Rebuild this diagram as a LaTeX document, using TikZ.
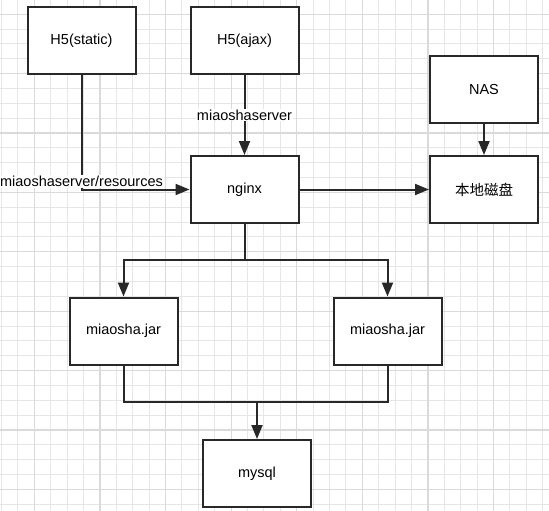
\documentclass[tikz,border=0pt]{standalone}
\usepackage{xcolor}
\usepackage{tikz}
\usepackage{fontspec}
\setmainfont{Liberation Sans}
\newfontfamily\cjk{Noto Sans CJK SC}
\usetikzlibrary{arrows.meta}
\definecolor{grid-color}{RGB}{230,230,230}
\definecolor{grid-major-color}{RGB}{218,218,218}
\definecolor{line-color}{RGB}{40,40,40}

\begin{document}
\begin{tikzpicture}[
    x=1pt, y=-1pt,
    font=\fontsize{14.5}{16}\selectfont,
    box/.style={rectangle,draw=line-color,line width=2pt,fill=white,minimum width=108pt,minimum height=67pt},
    wire/.style={draw=line-color,line width=2pt},
    arr/.style={wire,-{Triangle[length=14pt,width=11pt]}},
    lbl/.style={fill=white,inner sep=1pt}
]
\useasboundingbox (0,0) rectangle (549,511);
\fill[white] (0,0) rectangle (549,511);
% grid
\foreach \i in {0,...,33}
    \draw[grid-color,line width=1pt] ({1.5+16.4*\i},0) -- ++(0,511);
\foreach \j in {0,...,33}
    \draw[grid-color,line width=1pt] (0,{14.2+14.85*\j}) -- ++(549,0);
\foreach \i in {2,6,...,30}
    \draw[grid-major-color,line width=1.2pt] ({1.5+16.4*\i},0) -- ++(0,511);
\foreach \j in {0,4,...,32}
    \draw[grid-major-color,line width=1.2pt] (0,{14.2+14.85*\j}) -- ++(549,0);

\node[box] (static) at (81.5,40.5) {H5(static)};
\node[box] (ajax) at (244.5,40.5) {H5(ajax)};
\node[box] (nginx) at (244.5,189.5) {nginx};
\node[box] (nas) at (484,89.5) {NAS};
\node[box] (disk) at (484,189.5) {\cjk 本地磁盘};
\node[box] (jar1) at (123.5,331) {miaosha.jar};
\node[box] (jar2) at (387.5,331) {miaosha.jar};
\node[box] (mysql) at (257,473.5) {mysql};

\coordinate (split) at (244.5,260);
\coordinate (merge) at (257,402);

\draw[arr] (static.south) |- node[pos=0.5,lbl,anchor=south,yshift=1pt] {miaoshaserver/resources} (nginx.west);
\draw[arr] (ajax) -- node[lbl] {miaoshaserver} (nginx);
\draw[arr] (nginx) -- (disk);
\draw[arr] (nas) -- (disk);
\draw[wire] (nginx.south) -- (split);
\draw[arr] (split) -| (jar1.north);
\draw[arr] (split) -| (jar2.north);
\draw[wire] (jar1.south) |- (merge);
\draw[wire] (jar2.south) |- (merge);
\draw[arr] (merge) -- (mysql);
\end{tikzpicture}
\end{document}
